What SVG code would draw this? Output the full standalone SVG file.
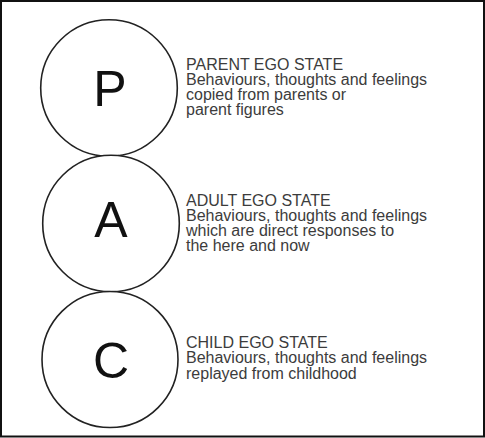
<svg xmlns="http://www.w3.org/2000/svg" width="485" height="438" viewBox="0 0 485 438">
<style>
.ring{fill:#fff;stroke:#222;stroke-width:1.6}
.big{font-family:"Liberation Sans",Arial,sans-serif;font-size:50px;fill:#111;text-anchor:middle}
.t{font-family:"Liberation Sans",Arial,sans-serif;font-size:16px;fill:#3c3c3c}
</style>
<rect x="0" y="0" width="485" height="438" fill="#fff"/>
<rect x="1" y="1" width="483" height="435.5" fill="none" stroke="#111" stroke-width="2"/>
<g id="connectors"></g>
<g id="parent">
<circle class="ring" cx="109" cy="88" r="68.3"/>
<text class="big" x="110" y="106">P</text>
<text class="t" x="186" y="70">PARENT EGO STATE<tspan x="186" dy="15">Behaviours, thoughts and feelings</tspan><tspan x="186" dy="15">copied from parents or</tspan><tspan x="186" dy="15">parent figures</tspan></text>
</g>
<g id="adult">
<circle class="ring" cx="111" cy="223.5" r="68.3"/>
<text class="big" x="111" y="237">A</text>
<text class="t" x="186" y="206">ADULT EGO STATE<tspan x="186" dy="15">Behaviours, thoughts and feelings</tspan><tspan x="186" dy="15">which are direct responses to</tspan><tspan x="186" dy="15">the here and now</tspan></text>
</g>
<g id="child">
<circle class="ring" cx="110" cy="359.5" r="68"/>
<text class="big" x="111" y="378">C</text>
<text class="t" x="186" y="347.5">CHILD EGO STATE<tspan x="186" dy="15.5">Behaviours, thoughts and feelings</tspan><tspan x="186" dy="15.5">replayed from childhood</tspan></text>
</g>
</svg>
